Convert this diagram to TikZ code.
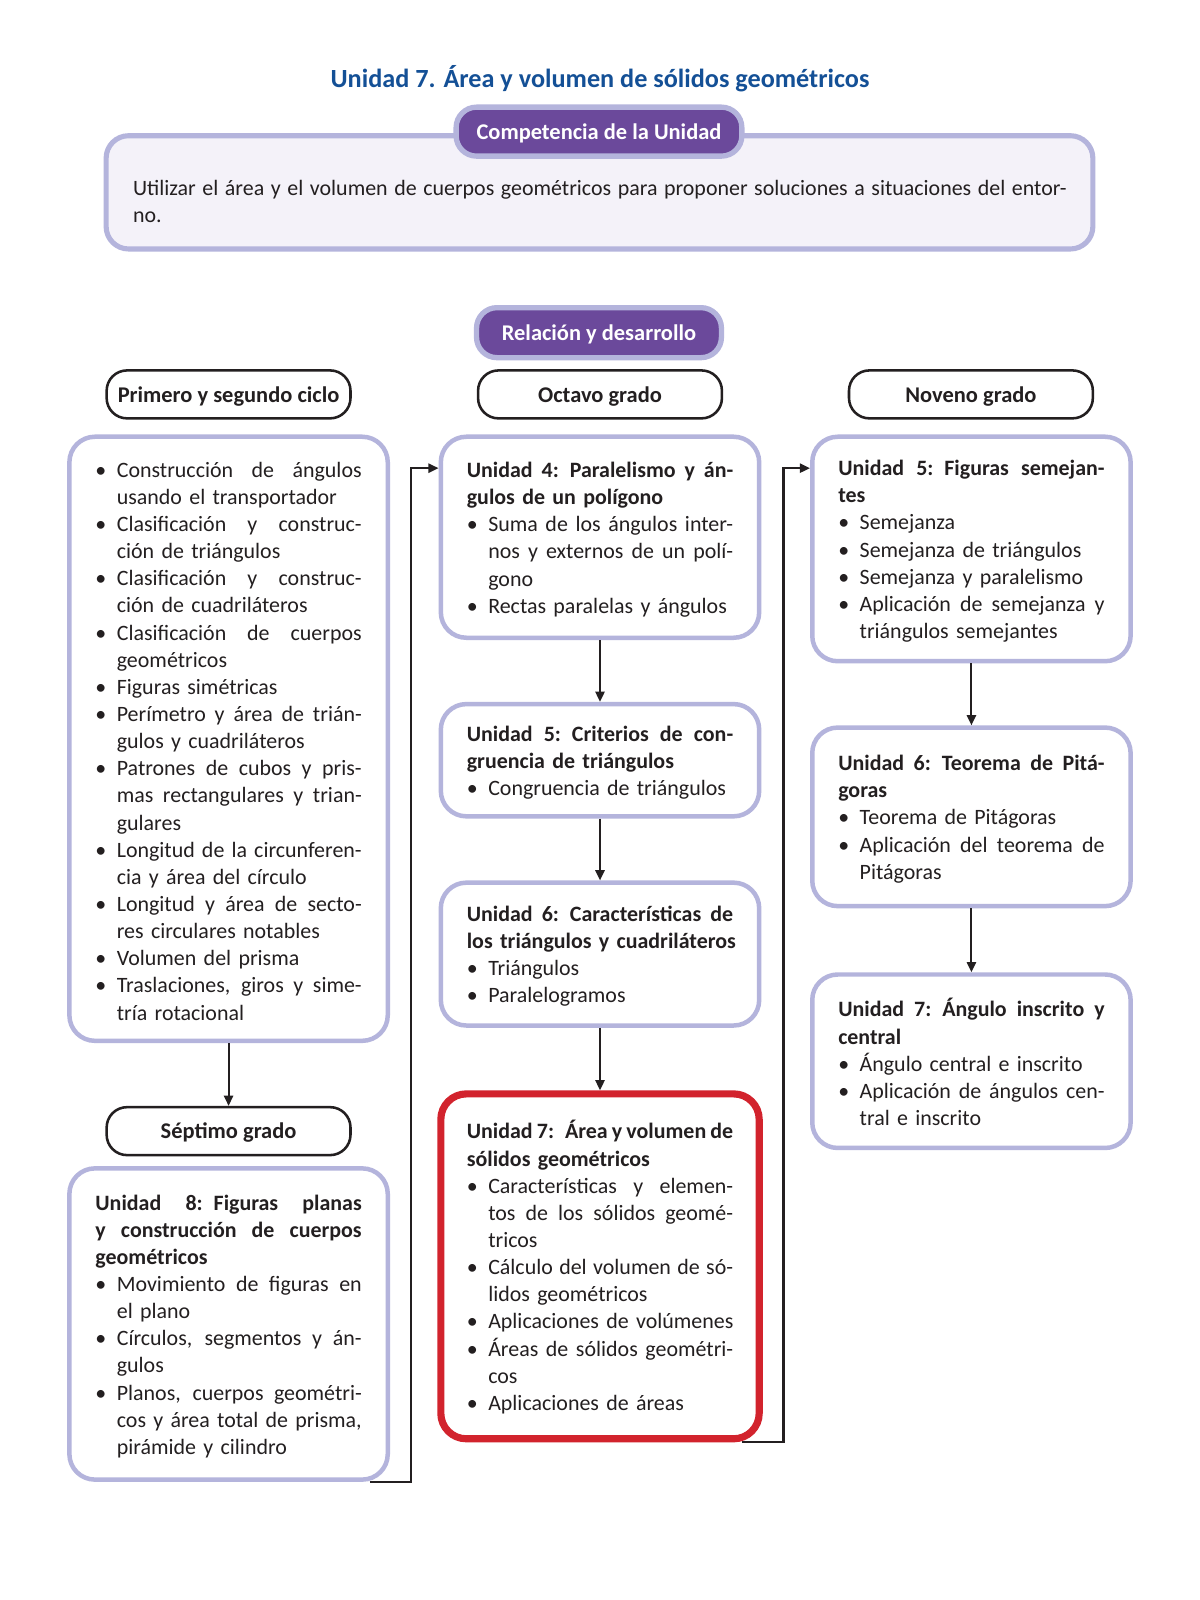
\documentclass[tikz,border=0pt]{standalone}
\usepackage{fontspec}
\setmainfont{Carlito}
\usetikzlibrary{arrows.meta,backgrounds}
\definecolor{lav}{RGB}{180,180,220}
\definecolor{purp}{RGB}{107,73,155}
\definecolor{compfill}{RGB}{244,242,249}
\definecolor{redb}{RGB}{210,35,45}
\definecolor{titleblue}{RGB}{20,80,150}
\definecolor{txt}{RGB}{35,31,32}
\newcommand\mpar{\ifhmode\unskip\setbox0\lastbox\par\fi}
\newcommand\mJJ[1]{\mpar\hbox to\hsize{\spaceskip=0.226em plus 1fil minus 0.04em\relax #1}}
\newcommand\mHJ[1]{\mJJ{\bfseries #1}}
\newcommand\mHL[1]{\mpar\hbox{\bfseries #1}}
\newcommand\mbul{\hbox to 10.5pt{\textbullet\hss}}
\newcommand\mIJ[1]{\mpar\hbox to\hsize{\mbul\hbox to\dimexpr\hsize-10.5pt\relax{\spaceskip=0.226em plus 1fil minus 0.04em\relax #1}}}
\newcommand\mIL[1]{\mpar\hbox{\mbul #1}}
\newcommand\mCJ[1]{\mpar\hbox to\hsize{\hskip10.5pt\hbox to\dimexpr\hsize-10.5pt\relax{\spaceskip=0.226em plus 1fil minus 0.04em\relax #1}}}
\newcommand\mCL[1]{\mpar\hbox{\hskip10.5pt #1}}
\newcommand\mend{\mpar\kern3.5pt}
\begin{document}
\begin{tikzpicture}[x=0.5pt,y=-0.5pt,
  box/.style={draw=lav, line width=2.2pt, rounded corners=12.5pt, fill=white,
    text width=130.5pt, inner xsep=12.75pt, inner ysep=0pt, minimum width=156pt,
    text=txt, font=\fontsize{10.75}{13.3}\selectfont},
  pillp/.style={fill=purp, draw=lav, line width=2.6pt, rounded corners=10pt, text=white,
    font=\bfseries\fontsize{11}{13}\selectfont, inner sep=0pt, text height=9.5pt, text depth=2pt},
  pillw/.style={fill=white, draw=txt, line width=1.25pt, rounded corners=10pt, text=txt,
    font=\bfseries\fontsize{11}{13}\selectfont, inner sep=0pt, text height=9.5pt, text depth=2pt,
    minimum width=119.5pt, minimum height=23.5pt},
  arr/.style={line width=1pt, draw=txt, -{Triangle[length=5pt,width=4.5pt]}}]
\useasboundingbox (0,0) rectangle (1176,1568);
\begin{pgfonlayer}{background}
\fill[white] (0,0) rectangle (1176,1568);
\end{pgfonlayer}

\node[font=\bfseries\fontsize{12.85}{15}\selectfont, text=titleblue] (title) at (588,77)
  {Unidad 7. Área y volumen de sólidos geométricos};

% competence
\node[draw=lav, line width=2.5pt, fill=compfill, rounded corners=11pt,
  minimum width=483.5pt, minimum height=55.5pt] (compbox) at (587.5,188.5) {};
\node[pillp, minimum width=140pt, minimum height=24pt] (comp) at (587,129) {Competencia de la Unidad};
\node[anchor=west, inner sep=0pt, text width=457.5pt, text=txt,
  font=\fontsize{10.75}{13.3}\selectfont] (comptext) at (130,191.5)
  {\mJJ{Utilizar el área y el volumen de cuerpos geométricos para proponer soluciones a situaciones del entor-}\mpar\hbox{no.}};

\node[pillp, minimum width=120pt, minimum height=24.5pt] (rel) at (587,326) {Relación y desarrollo};

\node[pillw] (p1) at (224,386.5) {Primero y segundo ciclo};
\node[pillw] (p2) at (588,386.5) {Octavo grado};
\node[pillw] (p3) at (951.5,386.5) {Noveno grado};
\node[pillw] (p4) at (224,1108.5) {Séptimo grado};

% left column
\node[box, minimum height=296pt] (L1) at (224,724) {%
\mIJ{Construcción de ángulos}
\mCL{usando el transportador}
\mIJ{Clasificación y construc-}
\mCL{ción de triángulos}
\mIJ{Clasificación y construc-}
\mCL{ción de cuadriláteros}
\mIJ{Clasificación de cuerpos}
\mCL{geométricos}
\mIL{Figuras simétricas}
\mIJ{Perímetro y área de trián-}
\mCL{gulos y cuadriláteros}
\mIJ{Patrones de cubos y pris-}
\mCJ{mas rectangulares y trian-}
\mCL{gulares}
\mIJ{Longitud de la circunferen-}
\mCL{cia y área del círculo}
\mIJ{Longitud y área de secto-}
\mCL{res circulares notables}
\mIL{Volumen del prisma}
\mIJ{Traslaciones, giros y sime-}
\mCL{tría rotacional}\mend};

\node[box, minimum height=152.5pt] (L2) at (224,1297.5) {%
\mHJ{Unidad 8: Figuras planas}
\mHJ{y construcción de cuerpos}
\mHL{geométricos}
\mIJ{Movimiento de figuras en}
\mCL{el plano}
\mIJ{Círculos, segmentos y án-}
\mCL{gulos}
\mIJ{Planos, cuerpos geométri-}
\mCJ{cos y área total de prisma,}
\mCL{pirámide y cilindro}\mend};

% middle column
\node[box, minimum height=98.5pt] (M1) at (588,526.5) {%
\mHJ{Unidad 4: Paralelismo y án-}
\mHL{gulos de un polígono}
\mIJ{Suma de los ángulos inter-}
\mCJ{nos y externos de un polí-}
\mCL{gono}
\mIL{Rectas paralelas y ángulos}\mend};

\node[box, minimum height=55pt] (M2) at (588,745) {%
\mHJ{Unidad 5: Criterios de con-}
\mHL{gruencia de triángulos}
\mIL{Congruencia de triángulos}\mend};

\node[box, minimum height=70pt] (M3) at (588,935) {%
\mHJ{Unidad 6: Características de}
\mHL{los triángulos y cuadriláteros}
\mIL{Triángulos}
\mIL{Paralelogramos}\mend};

\node[box, draw=redb, line width=3.5pt, minimum height=169pt] (M4) at (588,1241) {%
\mHJ{Unidad 7: Área y volumen de}
\mHL{sólidos geométricos}
\mIJ{Características y elemen-}
\mCJ{tos de los sólidos geomé-}
\mCL{tricos}
\mIJ{Cálculo del volumen de só-}
\mCL{lidos geométricos}
\mIL{Aplicaciones de volúmenes}
\mIJ{Áreas de sólidos geométri-}
\mCL{cos}
\mIL{Aplicaciones de áreas}\mend};

% right column
\node[box, minimum height=110pt] (R1) at (952,538) {%
\mHJ{Unidad 5: Figuras semejan-}
\mHL{tes}
\mIL{Semejanza}
\mIL{Semejanza de triángulos}
\mIL{Semejanza y paralelismo}
\mIJ{Aplicación de semejanza y}
\mCL{triángulos semejantes}\mend};

\node[box, minimum height=87.5pt] (R2) at (952,800.5) {%
\mHJ{Unidad 6: Teorema de Pitá-}
\mHL{goras}
\mIL{Teorema de Pitágoras}
\mIJ{Aplicación del teorema de}
\mCL{Pitágoras}\mend};

\node[box, minimum height=85pt] (R3) at (952,1040) {%
\mHJ{Unidad 7: Ángulo inscrito y}
\mHL{central}
\mIL{Ángulo central e inscrito}
\mIJ{Aplicación de ángulos cen-}
\mCL{tral e inscrito}\mend};

% connectors
\draw[arr] (L1) -- (p4);
\draw[arr] (M1) -- (M2);
\draw[arr] (M2) -- (M3);
\draw[arr] (M3) -- (M4);
\draw[arr] (R1) -- (R2);
\draw[arr] (R2) -- (R3);

\coordinate (c1) at ([xshift=-13.5pt,yshift=-16.5pt]M1.north west);
\coordinate (c2) at ([xshift=-13pt,yshift=-16.5pt]R1.north west);
\begin{pgfonlayer}{background}
\draw[arr] ([xshift=-10pt]L2.south east) -| (c1) -- (c1 -| M1.west);
\draw[arr] ([xshift=-10pt]M4.south east) -| (c2) -- (c2 -| R1.west);
\end{pgfonlayer}
\end{tikzpicture}
\end{document}
